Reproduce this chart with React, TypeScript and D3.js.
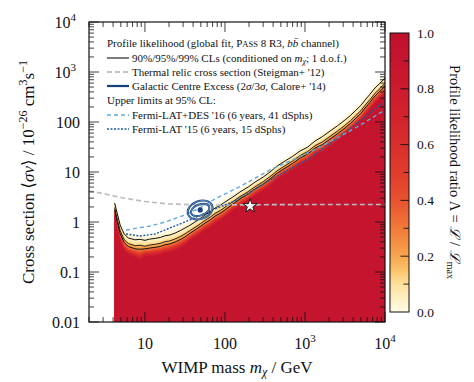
import React from 'react';
import * as d3 from 'd3';

const W = 474;
const H = 382;

// ---- data ----
const massGrid = [4.18, 4.5, 4.9, 5.5, 6.2, 7.5, 8.7, 10, 11.5, 13.4, 15.5, 17.8, 20.5, 23.8, 27.5, 31.7, 36.5, 42.3, 49, 56.4, 65, 75.2, 87, 100, 125, 154, 195, 238, 300, 366, 450, 564, 700, 868, 1080, 1337, 1650, 2058, 2550, 3170, 3700, 4227, 5000, 5636, 6500, 7516, 8700, 10000];
const cl99 = [2.4, 1.5, 0.87, 0.575, 0.48, 0.44, 0.45, 0.43, 0.455, 0.47, 0.49, 0.53, 0.55, 0.6, 0.67, 0.76, 0.86, 1.0, 1.17, 1.38, 1.58, 1.9, 2.15, 2.51, 3.15, 3.98, 5.0, 6.3, 7.9, 10.0, 13.2, 16.6, 20.5, 26.3, 31.5, 41.7, 51, 66, 84, 110, 135, 166, 215, 275, 360, 480, 600, 760];
const cl95 = [1.94, 1.16, 0.672, 0.444, 0.371, 0.335, 0.342, 0.327, 0.346, 0.358, 0.373, 0.403, 0.419, 0.457, 0.51, 0.578, 0.674, 0.784, 0.917, 1.08, 1.24, 1.49, 1.69, 1.97, 2.55, 3.22, 4.04, 5.09, 6.38, 8.08, 10.6, 13.4, 16.6, 21.3, 25.6, 33.7, 40.0, 51.7, 65.9, 86.2, 106, 130, 169, 216, 282, 376, 470, 596];
const cl90 = [1.74, 1.01, 0.588, 0.389, 0.324, 0.291, 0.285, 0.29, 0.301, 0.311, 0.324, 0.35, 0.364, 0.397, 0.443, 0.502, 0.595, 0.692, 0.81, 0.955, 1.093, 1.315, 1.49, 1.74, 2.28, 2.88, 3.62, 4.56, 5.72, 7.24, 9.5, 12.0, 14.8, 19.0, 22.8, 30.2, 35.3, 45.7, 58.1, 76.1, 93.4, 115, 149, 190, 249, 332, 415, 526];

const thermalMass = [2, 3, 5, 10, 20, 50, 100, 1000, 10000];
const thermalSv = [4.17, 3.72, 3.09, 2.57, 2.29, 2.19, 2.19, 2.24, 2.24];

const des16Mass = [5.8, 8.2, 11.6, 17.8, 31.7, 48.8, 70.9, 168, 366, 651, 1157, 2377, 4477, 10000];
const des16Sv = [0.69, 0.76, 0.83, 1.0, 1.38, 1.91, 2.75, 5.5, 11, 16.6, 25.1, 45.7, 79.4, 174];

const lat15Mass = [5.8, 8.7, 13.4, 21.8, 36.6, 65.1, 141.6, 366, 1157, 3170, 10000];
const lat15Sv = [0.575, 0.525, 0.575, 0.79, 1.1, 1.66, 2.75, 6.9, 19, 62, 260];

const bestFitMass = 206;
const bestFitSv = 2.09;

const gceMass = 49;
const gceSv = 1.74;
// semi-axes in decades (mass, cross section): 2σ and 3σ
const gceSemiMass = [0.12, 0.16];
const gceSemiSv = [0.11, 0.18];

const xTickValues = [10, 100, 1000, 10000];
const xTickLabels = [['10', ''], ['100', ''], ['10', '3'], ['10', '4']];
const yTickValues = [0.01, 0.1, 1, 10, 100, 1000, 10000];
const yTickLabels = [['0.01', ''], ['0.1', ''], ['1', ''], ['10', ''], ['100', ''], ['10', '3'], ['10', '4']];

const cbMajor = [0, 0.2, 0.4, 0.6, 0.8, 1.0];
const cbMinor = [0.1, 0.3, 0.5, 0.7, 0.9];

const cmapStops = [0, 0.05, 0.1, 0.15, 0.2, 0.3, 0.4, 0.5, 0.6, 0.7, 0.8, 0.9, 1.0];
const cmapColors = ['#fffbe6', '#fff0c2', '#fde09a', '#fbc36c', '#f8a54e', '#f17a3a', '#e9522f', '#e03c2c', '#d82e2c', '#d2232d', '#cc1b2e', '#c6152e', '#c0102d'];

// likelihood ratio levels used to shade the band
const shadeLevels = [0.012, 0.025, 0.036, 0.05, 0.07, 0.09, 0.115, 0.1465, 0.175, 0.21, 0.2585, 0.31, 0.38, 0.47, 0.58, 0.7, 0.82];

const FONT = "'Liberation Serif', 'DejaVu Serif', serif";

export default function App() {
  const L = 89, R = 385, T = 22, B = 322;
  const x = d3.scaleLog().domain([2, 1e4]).range([L, R]);
  const y = d3.scaleLog().domain([0.01, 1e4]).range([B, T]);
  const cmap = d3.scaleLinear<string>().domain(cmapStops).range(cmapColors).interpolate(d3.interpolateRgb);

  const S90 = 1.645, S95 = 1.96, S99 = 2.576;
  const levelLog = (i: number, lam: number) => {
    const s = Math.sqrt(-2 * Math.log(lam));
    const l90 = Math.log10(cl90[i]);
    const l95 = Math.log10(cl95[i]);
    const l99 = Math.log10(cl99[i]);
    if (s >= S99) return l99 + ((s - S99) / (S99 - S95)) * (l99 - l95);
    if (s >= S95) return l95 + ((s - S95) / (S99 - S95)) * (l99 - l95);
    if (s >= S90) return l90 + ((s - S90) / (S95 - S90)) * (l95 - l90);
    return l90 - (S90 - s) * 0.85 * (l95 - l90) / (S95 - S90);
  };

  const idx = d3.range(massGrid.length);
  const layers = shadeLevels.map((lam, k) => {
    const mid = k < shadeLevels.length - 1 ? (lam + shadeLevels[k + 1]) / 2 : 0.93;
    const area = d3.area<number>()
      .x(i => x(massGrid[i]))
      .y0(B + 2)
      .y1(i => y(Math.pow(10, levelLog(i, lam))));
    return { d: area(idx) || '', color: cmap(mid) };
  });

  const contourLine = (vals: number[]) =>
    d3.line<number>().x(i => x(massGrid[i])).y(i => y(vals[i]))(idx) || '';

  const seriesLine = (ms: number[], vs: number[]) =>
    d3.line<number>().x((_, i) => x(ms[i])).y((_, i) => y(vs[i]))(ms) || '';

  const isMajor = (v: number) => Math.abs(Math.log10(v) - Math.round(Math.log10(v))) < 1e-6;
  const xTicksAll = x.ticks();
  const yTicksAll = y.ticks();

  const pxDecX = x(100) - x(10);
  const pxDecY = y(1) - y(10);
  const gx = x(gceMass), gy = y(gceSv);
  const starPath = d3.symbol().type(d3.symbolStar).size(62)() || '';

  const cbL = 390, cbR = 409, cbT = 33, cbB = 312;
  const cbY = d3.scaleLinear().domain([0, 1]).range([cbB, cbT]);

  const legendY = [43, 58, 72, 86, 100, 115, 129];
  const lx0 = 107, lx1 = 129, tx = 132;

  return (
    <svg width={W} height={H} style={{ position: 'absolute', left: 0, top: 0, display: 'block', background: '#fff' }} fontFamily={FONT}>
      <defs>
        <clipPath id="plotClip">
          <rect x={L} y={T} width={R - L} height={B - T} />
        </clipPath>
        <linearGradient id="cbGrad" x1="0" y1="1" x2="0" y2="0">
          {cmapStops.map((s, i) => (
            <stop key={i} offset={s} stopColor={cmapColors[i]} />
          ))}
        </linearGradient>
      </defs>
      <rect x={0} y={0} width={W} height={H} fill="#fff" />
      <g clipPath="url(#plotClip)">
        {layers.map((l, i) => (
          <path key={i} d={l.d} fill={l.color} stroke={l.color} strokeWidth={0.3} />
        ))}
        <path d={contourLine(cl90)} fill="none" stroke="#111" strokeWidth={1} />
        <path d={contourLine(cl95)} fill="none" stroke="#111" strokeWidth={0.9} />
        <path d={contourLine(cl99)} fill="none" stroke="#111" strokeWidth={1} />
        <path d={seriesLine(thermalMass, thermalSv)} fill="none" stroke="#bcbcbc" strokeWidth={1.7} strokeDasharray="5 3" />
        <path d={seriesLine(lat15Mass, lat15Sv)} fill="none" stroke="#1f5b9c" strokeWidth={1.4} strokeDasharray="2 1.5" />
        <path d={seriesLine(des16Mass, des16Sv)} fill="none" stroke="#62a9da" strokeWidth={1.4} strokeDasharray="4 3" />
        {[1, 0].map(k => (
          <g key={k}>
            <ellipse cx={gx} cy={gy} rx={gceSemiMass[k] * pxDecX} ry={gceSemiSv[k] * pxDecY}
              transform={`rotate(-20 ${gx} ${gy})`} fill="none" stroke="#17407e" strokeWidth={2} />
            <ellipse cx={gx} cy={gy} rx={gceSemiMass[k] * pxDecX} ry={gceSemiSv[k] * pxDecY}
              transform={`rotate(-20 ${gx} ${gy})`} fill="none" stroke="#7fb0de" strokeWidth={0.6} />
          </g>
        ))}
        <circle cx={gx} cy={gy} r={2.6} fill="#17407e" />
        <path d={starPath} transform={`translate(${x(bestFitMass)},${y(bestFitSv)})`} fill="#fff" stroke="#111" strokeWidth={0.9} />
      </g>

      {/* ticks */}
      <g stroke="#111" strokeWidth={0.8}>
        {xTicksAll.map((t, i) => {
          const len = isMajor(t) ? 10 : 5;
          const px = x(t);
          return (
            <g key={i}>
              <line x1={px} x2={px} y1={B} y2={B - len} />
              <line x1={px} x2={px} y1={T} y2={T + len} />
            </g>
          );
        })}
        {yTicksAll.map((t, i) => {
          const len = isMajor(t) ? 10 : 5;
          const py = y(t);
          return (
            <g key={i}>
              <line x1={L} x2={L + len} y1={py} y2={py} />
              <line x1={R} x2={R - len} y1={py} y2={py} />
            </g>
          );
        })}
      </g>
      <rect x={L} y={T} width={R - L} height={B - T} fill="none" stroke="#111" strokeWidth={1.2} />

      {/* tick labels */}
      <g fontSize={16} fill="#111">
        {xTickValues.map((t, i) => (
          <text key={i} x={x(t)} y={349} textAnchor="middle">
            {xTickLabels[i][0]}
            {xTickLabels[i][1] && <tspan dy={-7} fontSize={11}>{xTickLabels[i][1]}</tspan>}
          </text>
        ))}
        {yTickValues.map((t, i) => (
          <text key={i} x={yTickLabels[i][1] ? 76 : 80} y={y(t) + 5.5} textAnchor="end">
            {yTickLabels[i][0]}
            {yTickLabels[i][1] && <tspan dy={-7} fontSize={11}>{yTickLabels[i][1]}</tspan>}
          </text>
        ))}
      </g>

      {/* axis titles */}
      <text x={237} y={373} textAnchor="middle" fontSize={17} fill="#111">
        WIMP mass <tspan fontStyle="italic">m</tspan><tspan fontStyle="italic" fontSize={12} dy={3}>χ</tspan><tspan dy={-3}> / GeV</tspan>
      </text>
      <text transform="translate(34,172) rotate(-90)" textAnchor="middle" fontSize={17} fill="#111">
        Cross section ⟨<tspan fontStyle="italic">σv</tspan>⟩ / 10<tspan dy={-7} fontSize={12}>−26</tspan><tspan dy={7}> cm</tspan><tspan dy={-7} fontSize={12}>3</tspan><tspan dy={7}>s</tspan><tspan dy={-7} fontSize={12}>−1</tspan>
      </text>

      {/* colorbar */}
      <rect x={cbL} y={cbT} width={cbR - cbL} height={cbB - cbT} fill="url(#cbGrad)" stroke="#111" strokeWidth={1} />
      <g stroke="#111" strokeWidth={0.9}>
        {cbMajor.filter(v => v > 0 && v < 1).map((v, i) => (
          <line key={'M' + i} x1={cbR} x2={cbR - 8.5} y1={cbY(v)} y2={cbY(v)} />
        ))}
        {cbMinor.map((v, i) => (
          <line key={'m' + i} x1={cbR} x2={cbR - 5.5} y1={cbY(v)} y2={cbY(v)} />
        ))}
      </g>
      <g fontSize={13.5} fill="#111">
        {cbMajor.map((v, i) => (
          <text key={i} x={417} y={cbY(v) + 4.5}>{v.toFixed(1)}</text>
        ))}
      </g>
      <text transform="translate(450,172) rotate(90)" textAnchor="middle" fontSize={14.5} fill="#111">
        Profile likelihood ratio Λ = <tspan fontStyle="italic">ℒ</tspan> / <tspan fontStyle="italic">ℒ</tspan><tspan fontSize={10} dy={3}>max</tspan>
      </text>

      {/* legend */}
      <g fontSize={11} fill="#111">
        <text x={lx0} y={legendY[0] + 3.8}>
          Profile likelihood (global fit, P<tspan fontSize={8.5}>ASS</tspan> 8 R3, <tspan fontStyle="italic">b</tspan><tspan fontStyle="italic">b̄</tspan> channel)
        </text>
        <line x1={lx0} x2={lx1} y1={legendY[1]} y2={legendY[1]} stroke="#111" strokeWidth={1.1} />
        <text x={tx} y={legendY[1] + 3.8}>
          90%/95%/99% CLs (conditioned on <tspan fontStyle="italic">m</tspan><tspan fontStyle="italic" fontSize={8} dy={2}>χ</tspan><tspan dy={-2}>; 1 d.o.f.)</tspan>
        </text>
        <line x1={lx0} x2={lx1} y1={legendY[2]} y2={legendY[2]} stroke="#b0b0b0" strokeWidth={1.7} strokeDasharray="5 3" />
        <text x={tx} y={legendY[2] + 3.8}>Thermal relic cross section (Steigman+ '12)</text>
        <line x1={lx0} x2={lx1} y1={legendY[3]} y2={legendY[3]} stroke="#17407e" strokeWidth={2.2} />
        <text x={tx} y={legendY[3] + 3.8}>
          Galactic Centre Excess (2<tspan fontStyle="italic">σ</tspan>/3<tspan fontStyle="italic">σ</tspan>, Calore+ '14)
        </text>
        <text x={lx0} y={legendY[4] + 3.8}>Upper limits at 95% CL:</text>
        <line x1={lx0} x2={lx1} y1={legendY[5]} y2={legendY[5]} stroke="#62a9da" strokeWidth={1.4} strokeDasharray="4 3" />
        <text x={tx} y={legendY[5] + 3.8}>Fermi-LAT+DES '16 (6 years, 41 dSphs)</text>
        <line x1={lx0} x2={lx1} y1={legendY[6]} y2={legendY[6]} stroke="#1f5b9c" strokeWidth={1.4} strokeDasharray="2 1.5" />
        <text x={tx} y={legendY[6] + 3.8}>Fermi-LAT '15 (6 years, 15 dSphs)</text>
      </g>
    </svg>
  );
}
